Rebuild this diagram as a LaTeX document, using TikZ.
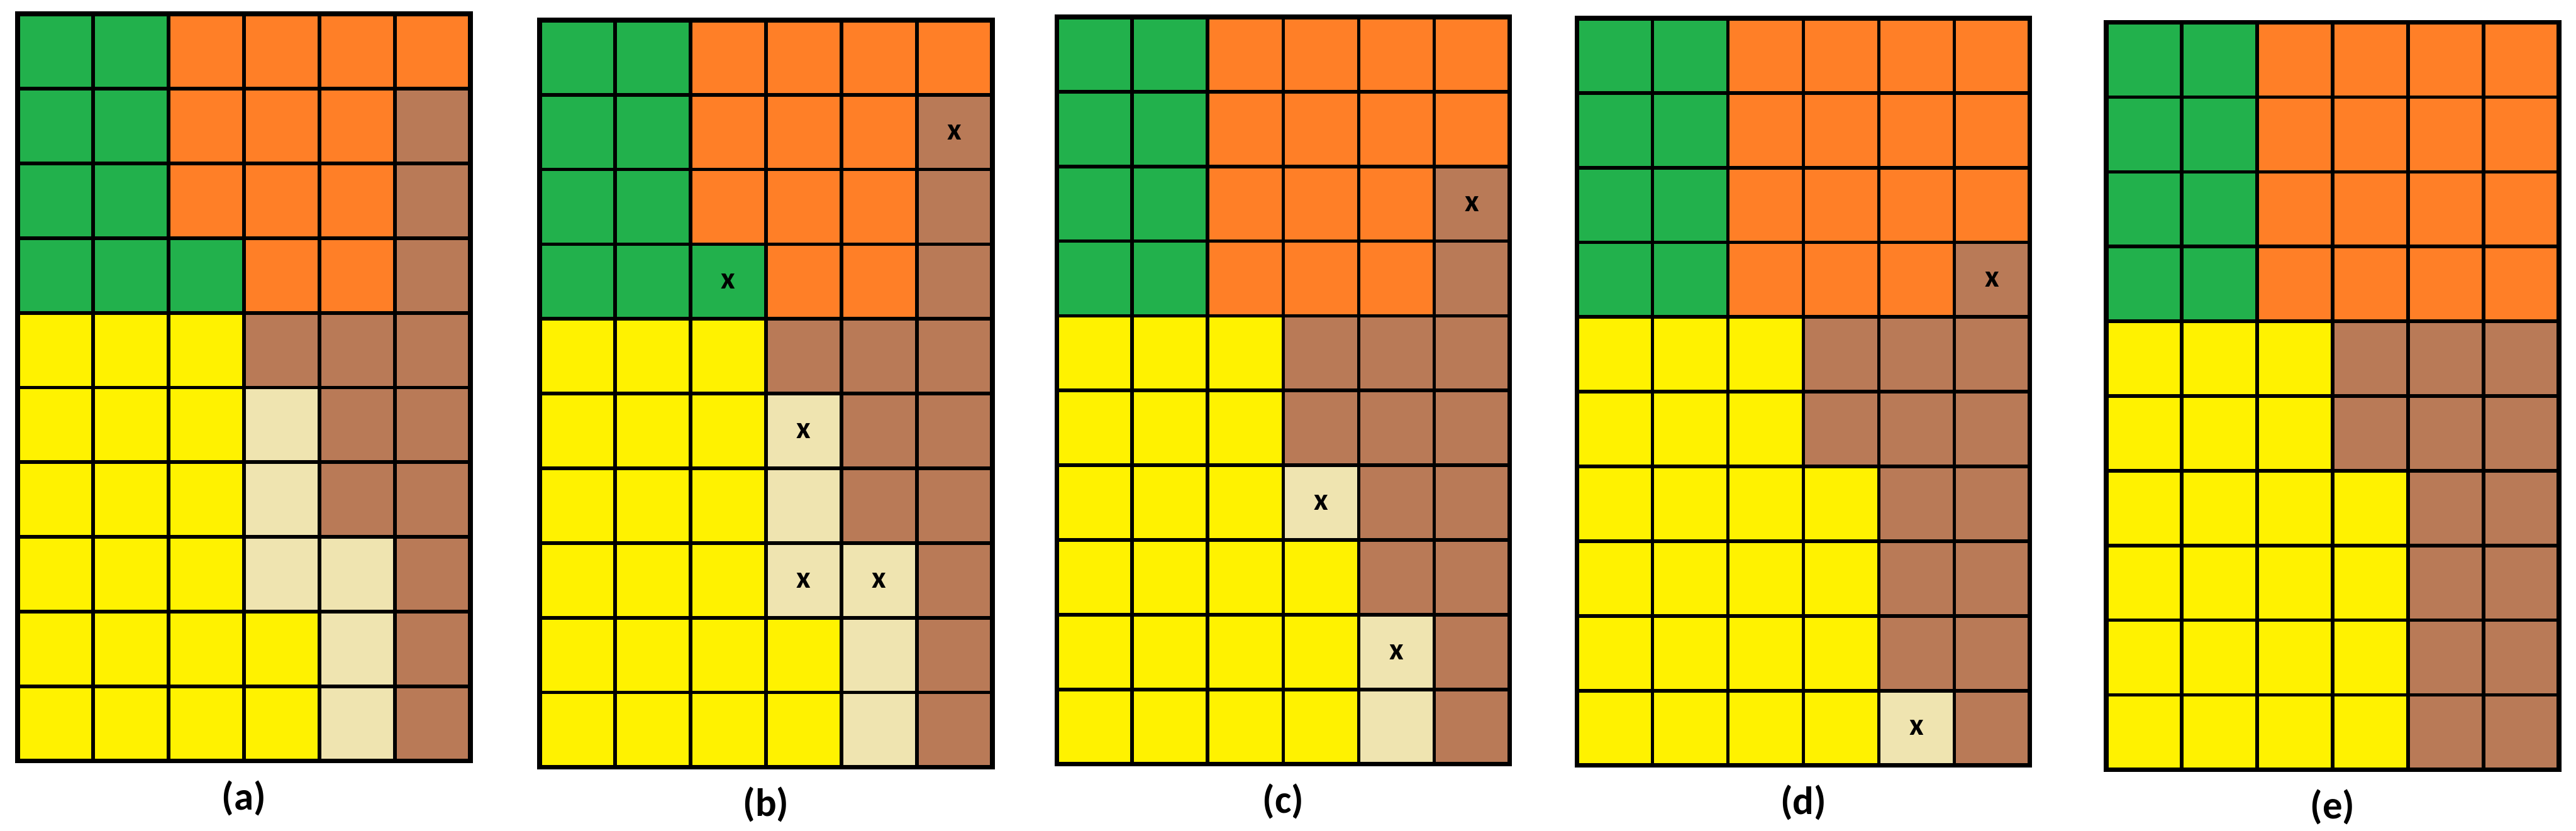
\documentclass[tikz,border=0pt]{standalone}
\usepackage{fontspec}
\setmainfont{Carlito}
\usetikzlibrary{positioning}

\definecolor{cG}{HTML}{22B14C}
\definecolor{cO}{HTML}{FF7F27}
\definecolor{cB}{HTML}{B97A57}
\definecolor{cY}{HTML}{FFF200}
\definecolor{cL}{HTML}{EFE4B0}

% one 6x10 panel: name, left, top, rows
\newcommand{\panel}[4]{%
  \foreach \row [count=\r] in {#4} {
    \foreach \c [count=\k] in \row {
      \node[cell, fill=\c] (#1-\r-\k) at ({#2+(\k-0.5)*1.242}, {#3-(\r-0.5)*1.23}) {};
    }
  }
  \draw[frame] (#1-1-1.north west) rectangle (#1-10-6.south east);
  \node[lbl, below=0.32cm of #1-10-3.south east] (#1-lbl) {(#1)};
}

\begin{document}
\begin{tikzpicture}[
    cell/.style={draw, line width=1.7pt, minimum width=1.242cm, minimum height=1.23cm, inner sep=0pt, outer sep=0pt},
    frame/.style={line width=2.2pt},
    xmark/.style={font=\bfseries\fontsize{14.5}{14.5}\selectfont, inner sep=0pt},
    lbl/.style={font=\bfseries\fontsize{18.5}{20}\selectfont, inner sep=0pt}
  ]
    \useasboundingbox (0,0) rectangle (42.39,13.68);

    \panel{a}{0.29}{13.45}{{cG,cG,cO,cO,cO,cO},{cG,cG,cO,cO,cO,cB},{cG,cG,cO,cO,cO,cB},{cG,cG,cG,cO,cO,cB},
      {cY,cY,cY,cB,cB,cB},{cY,cY,cY,cL,cB,cB},{cY,cY,cY,cL,cB,cB},{cY,cY,cY,cL,cL,cB},
      {cY,cY,cY,cY,cL,cB},{cY,cY,cY,cY,cL,cB}}

    \panel{b}{8.88}{13.35}{{cG,cG,cO,cO,cO,cO},{cG,cG,cO,cO,cO,cB},{cG,cG,cO,cO,cO,cB},{cG,cG,cG,cO,cO,cB},
      {cY,cY,cY,cB,cB,cB},{cY,cY,cY,cL,cB,cB},{cY,cY,cY,cL,cB,cB},{cY,cY,cY,cL,cL,cB},
      {cY,cY,cY,cY,cL,cB},{cY,cY,cY,cY,cL,cB}}

    \panel{c}{17.39}{13.40}{{cG,cG,cO,cO,cO,cO},{cG,cG,cO,cO,cO,cO},{cG,cG,cO,cO,cO,cB},{cG,cG,cO,cO,cO,cB},
      {cY,cY,cY,cB,cB,cB},{cY,cY,cY,cB,cB,cB},{cY,cY,cY,cL,cB,cB},{cY,cY,cY,cY,cB,cB},
      {cY,cY,cY,cY,cL,cB},{cY,cY,cY,cY,cL,cB}}

    \panel{d}{25.95}{13.38}{{cG,cG,cO,cO,cO,cO},{cG,cG,cO,cO,cO,cO},{cG,cG,cO,cO,cO,cO},{cG,cG,cO,cO,cO,cB},
      {cY,cY,cY,cB,cB,cB},{cY,cY,cY,cB,cB,cB},{cY,cY,cY,cY,cB,cB},{cY,cY,cY,cY,cB,cB},
      {cY,cY,cY,cY,cB,cB},{cY,cY,cY,cY,cL,cB}}

    \panel{e}{34.66}{13.31}{{cG,cG,cO,cO,cO,cO},{cG,cG,cO,cO,cO,cO},{cG,cG,cO,cO,cO,cO},{cG,cG,cO,cO,cO,cO},
      {cY,cY,cY,cB,cB,cB},{cY,cY,cY,cB,cB,cB},{cY,cY,cY,cY,cB,cB},{cY,cY,cY,cY,cB,cB},
      {cY,cY,cY,cY,cB,cB},{cY,cY,cY,cY,cB,cB}}

    % marked cells
    \node[xmark] (bx1) at (b-2-6) {x};
    \node[xmark] (bx2) at (b-4-3) {x};
    \node[xmark] (bx3) at (b-6-4) {x};
    \node[xmark] (bx4) at (b-8-4) {x};
    \node[xmark] (bx5) at (b-8-5) {x};
    \node[xmark] (cx1) at (c-3-6) {x};
    \node[xmark] (cx2) at (c-7-4) {x};
    \node[xmark] (cx3) at (c-9-5) {x};
    \node[xmark] (dx1) at (d-4-6) {x};
    \node[xmark] (dx2) at (d-10-5) {x};

\end{tikzpicture}
\end{document}
